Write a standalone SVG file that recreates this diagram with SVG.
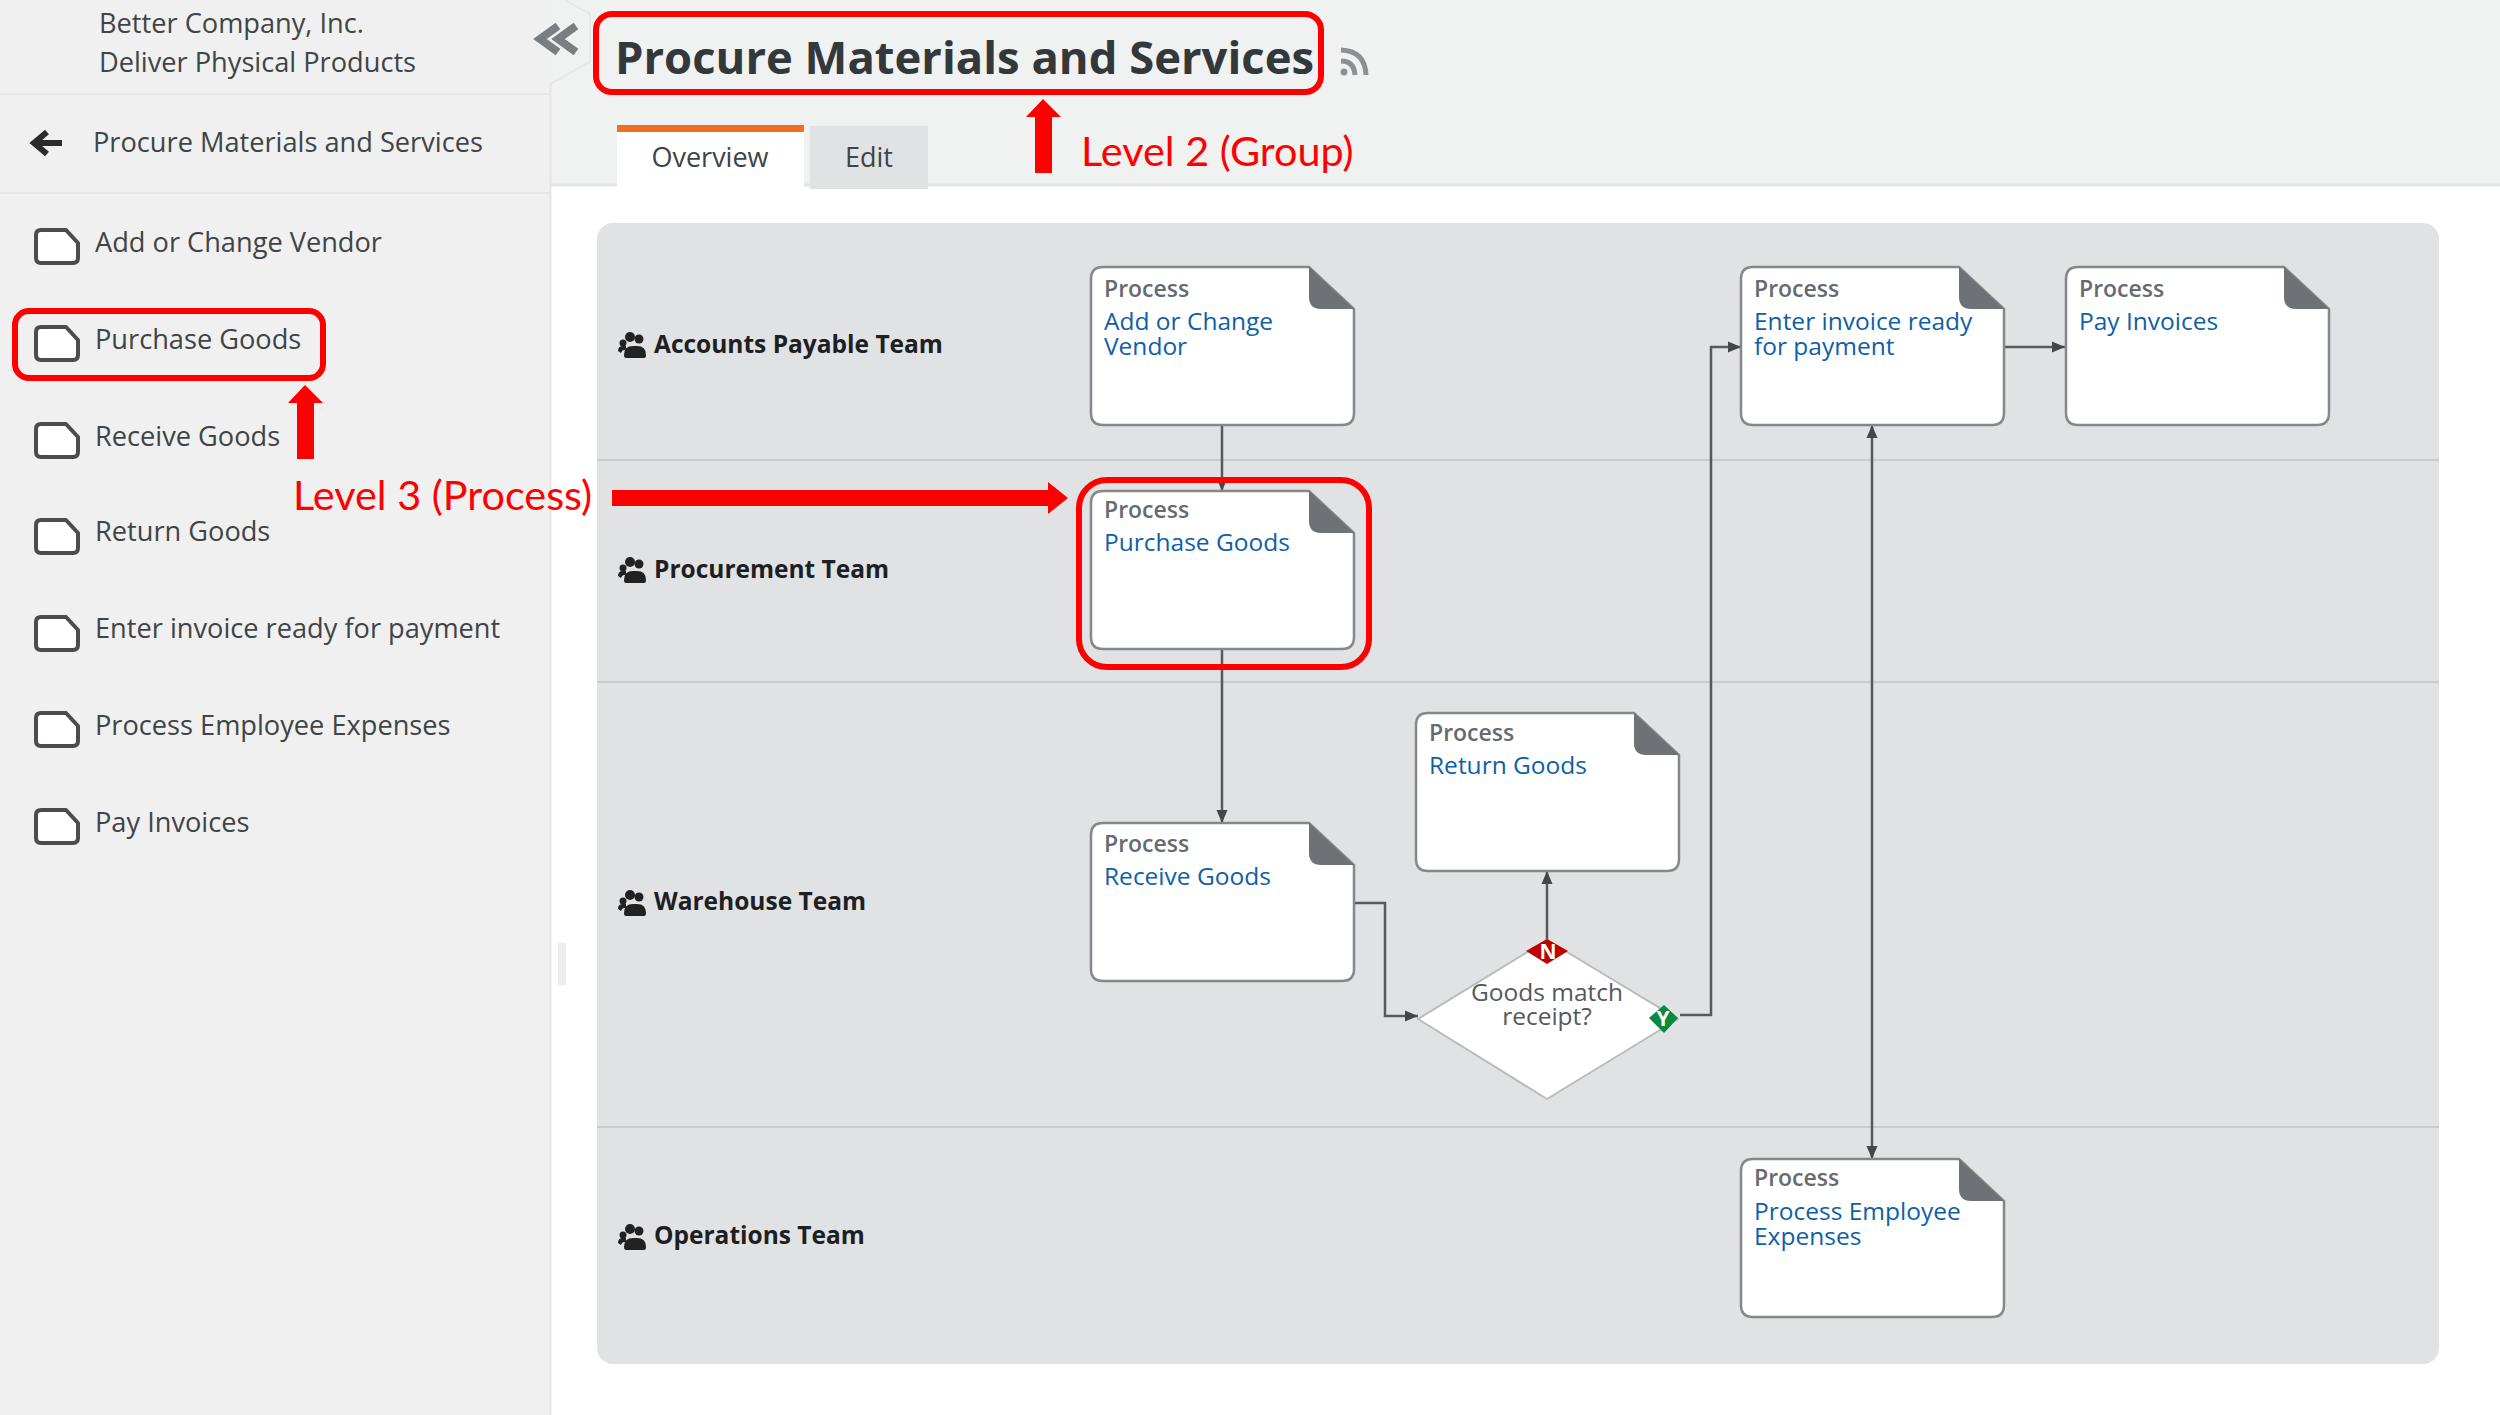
<svg xmlns="http://www.w3.org/2000/svg" width="2500" height="1415" viewBox="0 0 2500 1415">
<style>
text{font-family:"Open Sans","Noto Sans",sans-serif}
.side{font-size:27.2px;fill:#3f4446}
.lane{font-size:24.5px;font-weight:700;fill:#1d2022}
.card{fill:#fff;stroke:#85888b;stroke-width:2.5}
.fold{fill:#6e7276}
.kind{font-size:23px;font-weight:600;fill:#666b70}
.link{font-size:24.5px;fill:#0f5fa6}
.conn{fill:none;stroke:#58595b;stroke-width:2.5}
.redbox{fill:none;stroke:#ff0000;stroke-width:6}
.call{font-family:"Lato","Noto Sans",sans-serif;font-size:41.4px;fill:#ff0000}
.doc{fill:#fff;stroke:#4a4c4e;stroke-width:4;stroke-linejoin:round}
.rule{stroke:#c9cbcd;stroke-width:2}
</style>
<defs>
<marker id="arr" markerUnits="userSpaceOnUse" markerWidth="14" markerHeight="14" refX="13" refY="7" orient="auto"><path d="M0 1.500L13 7L0 12.500Z" fill="#454648"/></marker>
<marker id="arrs" markerUnits="userSpaceOnUse" markerWidth="14" markerHeight="14" refX="13" refY="7" orient="auto-start-reverse"><path d="M0 1.500L13 7L0 12.500Z" fill="#454648"/></marker>
<symbol id="people" viewBox="0 0 28 26" overflow="visible"><circle cx="12" cy="5" r="5" fill="#222"/><circle cx="21" cy="7" r="4.500" fill="#222"/><circle cx="5" cy="11" r="3.500" fill="#222"/><path d="M0 19q0-5 5-5h3v4h-2q-2 0-3 3zM8 26q-2 0-2-3 0-9 9-9h4q9 0 9 9 0 3-2 3z" fill="#222"/></symbol>
<path id="cardshape" d="M12 0H218L263 42V146Q263 158 251 158H12Q0 158 0 146V12Q0 0 12 0Z"/>
<path id="foldshape" d="M218 0L263 42H230Q218 42 218 30Z"/>
<path id="docicon" d="M5 0H30L42 13V28Q42 33 37 33H5Q0 33 0 28V5Q0 0 5 0Z"/>
</defs>

<rect id="page" width="2500" height="1415" fill="#fff"/>
<rect id="header" x="550" width="1950" height="185" fill="#f0f1f1"/>
<line x1="550" y1="185" x2="2500" y2="185" stroke="#e3e4e4" stroke-width="3"/>
<g id="sidebar">
<rect width="550" height="1415" fill="#f0f0f0"/>
<line x1="550.500" y1="84" x2="550.500" y2="1415" stroke="#e6e6e6" stroke-width="2"/>
<path d="M550 84L590 62V14L565 0" fill="#f0f1f1" stroke="#e6e7e7" stroke-width="2"/>
<line x1="0" y1="94" x2="550" y2="94" stroke="#e6e6e6" stroke-width="2"/>
<line x1="0" y1="193" x2="550" y2="193" stroke="#e6e6e6" stroke-width="2"/>
<rect x="558" y="943" width="8" height="42" fill="#ececec"/>
<text class="side" x="99" y="33">Better Company, Inc.</text>
<text class="side" x="99" y="72">Deliver Physical Products</text>
<path d="M558 26L540 39L558 52M576 26L558 39L576 52" fill="none" stroke="#7b7e80" stroke-width="8"/>
<path d="M62 143H34M47 132L34 143L47 154" fill="none" stroke="#2a2c2e" stroke-width="6"/>
<text class="side" x="93" y="152">Procure Materials and Services</text>
<use href="#docicon" x="36" y="230" class="doc"/><text class="side" x="95" y="252">Add or Change Vendor</text>
<use href="#docicon" x="36" y="327" class="doc"/><text class="side" x="95" y="349">Purchase Goods</text>
<use href="#docicon" x="36" y="424" class="doc"/><text class="side" x="95" y="446">Receive Goods</text>
<use href="#docicon" x="36" y="520" class="doc"/><text class="side" x="95" y="541">Return Goods</text>
<use href="#docicon" x="36" y="617" class="doc"/><text class="side" x="95" y="638">Enter invoice ready for payment</text>
<use href="#docicon" x="36" y="713" class="doc"/><text class="side" x="95" y="735">Process Employee Expenses</text>
<use href="#docicon" x="36" y="810" class="doc"/><text class="side" x="95" y="832">Pay Invoices</text>
</g>
<g id="title">
<text x="615" y="74" font-size="45.4" font-weight="700" fill="#33383a">Procure Materials and Services</text>
<g id="rss" fill="none" stroke="#8d9092" stroke-width="5"><circle cx="1344" cy="72" r="3.500" fill="#8d9092" stroke="none"/><path d="M1341 61Q1354 61 1355 75M1341 50Q1365 51 1366 75"/></g>
</g>
<g id="tabs">
<rect x="617" y="125" width="187" height="65" fill="#fff"/><rect x="617" y="125" width="187" height="7" fill="#f26f21"/>
<rect x="810" y="126" width="118" height="63" fill="#e1e2e4"/>
<text x="710" y="167" font-size="27" text-anchor="middle" fill="#3f4446">Overview</text>
<text x="869" y="167" font-size="27" text-anchor="middle" fill="#3f4446">Edit</text>
</g>
<g id="swimlanes">
<rect x="597" y="223" width="1842" height="1141" rx="16" fill="#e1e2e4"/>
<line class="rule" x1="597" y1="460" x2="2439" y2="460"/>
<line class="rule" x1="597" y1="682" x2="2439" y2="682"/>
<line class="rule" x1="597" y1="1127" x2="2439" y2="1127"/>
<g id="lane-ap"><use href="#people" x="618" y="332" width="28" height="26"/><text class="lane" x="654" y="353">Accounts Payable Team</text></g>
<g id="lane-proc"><use href="#people" x="618" y="557" width="28" height="26"/><text class="lane" x="654" y="578">Procurement Team</text></g>
<g id="lane-wh"><use href="#people" x="618" y="890" width="28" height="26"/><text class="lane" x="654" y="910">Warehouse Team</text></g>
<g id="lane-ops"><use href="#people" x="618" y="1224" width="28" height="26"/><text class="lane" x="654" y="1244">Operations Team</text></g>
</g>
<g id="connectors">
<path class="conn" d="M1222 425V491" marker-end="url(#arr)"/>
<path class="conn" d="M1222 649V823" marker-end="url(#arr)"/>
<path class="conn" d="M1354 903H1385V1016H1418" marker-end="url(#arr)"/>
<path class="conn" d="M1547 940V871" marker-end="url(#arr)"/>
<path class="conn" d="M1680 1015H1711V347H1741" marker-end="url(#arr)"/>
<path class="conn" d="M2004 347H2065" marker-end="url(#arr)"/>
<path class="conn" d="M1872 425V1159" marker-start="url(#arrs)" marker-end="url(#arrs)"/>
</g>
<g id="node-add-vendor" transform="translate(1091 267)"><use href="#cardshape" class="card"/><use href="#foldshape" class="fold"/><text class="kind" x="13" y="30">Process</text><text class="link" x="13" y="63">Add or Change</text><text class="link" x="13" y="88">Vendor</text></g>
<g id="node-enter-invoice" transform="translate(1741 267)"><use href="#cardshape" class="card"/><use href="#foldshape" class="fold"/><text class="kind" x="13" y="30">Process</text><text class="link" x="13" y="63">Enter invoice ready</text><text class="link" x="13" y="88">for payment</text></g>
<g id="node-pay" transform="translate(2066 267)"><use href="#cardshape" class="card"/><use href="#foldshape" class="fold"/><text class="kind" x="13" y="30">Process</text><text class="link" x="13" y="63">Pay Invoices</text></g>
<g id="node-purchase" transform="translate(1091 491)"><use href="#cardshape" class="card"/><use href="#foldshape" class="fold"/><text class="kind" x="13" y="27">Process</text><text class="link" x="13" y="60">Purchase Goods</text></g>
<g id="node-return" transform="translate(1416 713)"><use href="#cardshape" class="card"/><use href="#foldshape" class="fold"/><text class="kind" x="13" y="28">Process</text><text class="link" x="13" y="61">Return Goods</text></g>
<g id="node-receive" transform="translate(1091 823)"><use href="#cardshape" class="card"/><use href="#foldshape" class="fold"/><text class="kind" x="13" y="29">Process</text><text class="link" x="13" y="62">Receive Goods</text></g>
<g id="node-employee" transform="translate(1741 1159)"><use href="#cardshape" class="card"/><use href="#foldshape" class="fold"/><text class="kind" x="13" y="27">Process</text><text class="link" x="13" y="61">Process Employee</text><text class="link" x="13" y="86">Expenses</text></g>
<g id="node-decision">
<path d="M1547 940L1678 1019L1547 1099L1418 1019Z" fill="#fff" stroke="#b9bbbd" stroke-width="2" stroke-linejoin="round"/>
<text x="1547" y="1001" font-size="24.5" text-anchor="middle" fill="#55595c">Goods match</text>
<text x="1547" y="1025" font-size="24.5" text-anchor="middle" fill="#55595c">receipt?</text>
<path d="M1547 939L1568 951L1547 964L1526 951Z" fill="#c00000"/>
<text x="1548" y="959" font-size="21" font-weight="700" text-anchor="middle" fill="#fff">N</text>
<path d="M1664 1005L1678 1018L1664 1033L1649 1018Z" fill="#0a8a3c"/>
<text x="1663" y="1026" font-size="21" font-weight="700" text-anchor="middle" fill="#fff">Y</text>
</g>
<g id="annotations">
<rect class="redbox" x="596" y="14" width="725" height="78" rx="16"/>
<rect class="redbox" x="15" y="311" width="308" height="67" rx="14"/>
<rect class="redbox" x="1079" y="480" width="290" height="187" rx="28"/>
<path d="M1043 99L1061 117H1052V173H1035V117H1026Z" fill="#ff0000"/>
<path d="M305 385L323 403H314V459H297V403H288Z" fill="#ff0000"/>
<path d="M1068 498L1048 482V490H612V506H1048V514Z" fill="#ff0000"/>
<text class="call" x="1081" y="166">Level 2 (Group)</text>
<text class="call" x="293" y="510">Level 3 (Process)</text>
</g>
</svg>
